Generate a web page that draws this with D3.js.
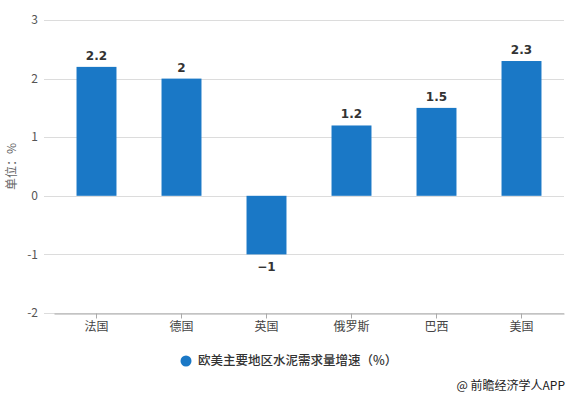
<!DOCTYPE html>
<html>
<head>
<meta charset="utf-8">
<script src="https://cdn.jsdelivr.net/npm/d3@7"></script>
<style>
  body { margin: 0; background: #fff; }
  svg { display: block; font-family: "Microsoft YaHei", "Noto Sans CJK SC", sans-serif; }
</style>
</head>
<body>
<svg id="chart" width="571" height="397"></svg>
<script>
// data
var categories = ["法国", "德国", "英国", "俄罗斯", "巴西", "美国"];
var growth = [2.2, 2, -1, 1.2, 1.5, 2.3];
var yTicks = [-2, -1, 0, 1, 2, 3];
var seriesName = "欧美主要地区水泥需求量增速（%）";

var svg = d3.select("#chart");
var margin = { left: 54, right: 7, top: 20, bottom: 84 };
var width = 571, height = 397;

var x = d3.scaleBand()
  .domain(categories)
  .range([margin.left, width - margin.right])
  .paddingInner(0.53)
  .paddingOuter(0.265);

var y = d3.scaleLinear()
  .domain([-2, 3])
  .range([height - margin.bottom, margin.top]);

// grid lines
svg.append("g")
  .selectAll("line")
  .data(yTicks)
  .enter().append("line")
  .attr("x1", 44)
  .attr("x2", width - margin.right)
  .attr("y1", function(d) { return Math.round(y(d)) + 0.5; })
  .attr("y2", function(d) { return Math.round(y(d)) + 0.5; })
  .attr("stroke", "#dcdcdc");

// y tick labels
svg.append("g")
  .selectAll("text")
  .data(yTicks)
  .enter().append("text")
  .attr("x", 38)
  .attr("y", function(d) { return y(d); })
  .attr("dy", "0.35em")
  .attr("text-anchor", "end")
  .attr("font-size", 12)
  .attr("fill", "#555")
  .text(function(d) { return d; });

// y label
svg.append("text")
  .attr("transform", "translate(16," + y(0.5) + ") rotate(-90)")
  .attr("text-anchor", "middle")
  .attr("font-size", 12)
  .attr("fill", "#666")
  .text("单位：%");

// x axis at bottom
var xAxis = svg.append("g")
  .attr("transform", "translate(0," + (Math.round(y(-2)) + 0.5) + ")")
  .call(d3.axisBottom(x).tickSize(5).tickSizeOuter(0).tickPadding(4));
xAxis.select(".domain").attr("stroke", "#aaa");
xAxis.selectAll(".tick line").attr("stroke", "#aaa");
xAxis.selectAll(".tick text")
  .attr("font-size", 12)
  .attr("fill", "#444")
  .attr("font-family", "\"Noto Sans CJK SC\", sans-serif");

// bars
var rows = categories.map(function(c, i) { return { name: c, value: growth[i] }; });

svg.append("g")
  .selectAll("rect")
  .data(rows)
  .enter().append("rect")
  .attr("x", function(d) { return x(d.name); })
  .attr("width", x.bandwidth())
  .attr("y", function(d) { return y(Math.max(0, d.value)); })
  .attr("height", function(d) { return Math.abs(y(d.value) - y(0)); })
  .attr("fill", "#1a78c6");

// value labels
svg.append("g")
  .selectAll("text")
  .data(rows)
  .enter().append("text")
  .attr("x", function(d) { return x(d.name) + x.bandwidth() / 2; })
  .attr("y", function(d) { return d.value >= 0 ? y(d.value) - 7 : y(d.value) + 17; })
  .attr("text-anchor", "middle")
  .attr("font-size", 12)
  .attr("font-weight", "bold")
  .attr("fill", "#333")
  .attr("font-family", "\"DejaVu Sans\", sans-serif")
  .text(function(d) { return d.value < 0 ? "\u2212" + Math.abs(d.value) : d.value; });

// legend
svg.append("circle")
  .attr("cx", 186)
  .attr("cy", 361)
  .attr("r", 5.5)
  .attr("fill", "#1a78c6");
svg.append("text")
  .attr("x", 198)
  .attr("y", 361)
  .attr("dy", "0.35em")
  .attr("font-size", 12.5)
  .attr("font-weight", 500)
  .attr("fill", "#333")
  .text(seriesName);

// source
svg.append("text")
  .attr("x", 565)
  .attr("y", 390)
  .attr("text-anchor", "end")
  .attr("font-size", 12)
  .attr("fill", "#222")
  .text("@ 前瞻经济学人APP");
</script>
</body>
</html>
